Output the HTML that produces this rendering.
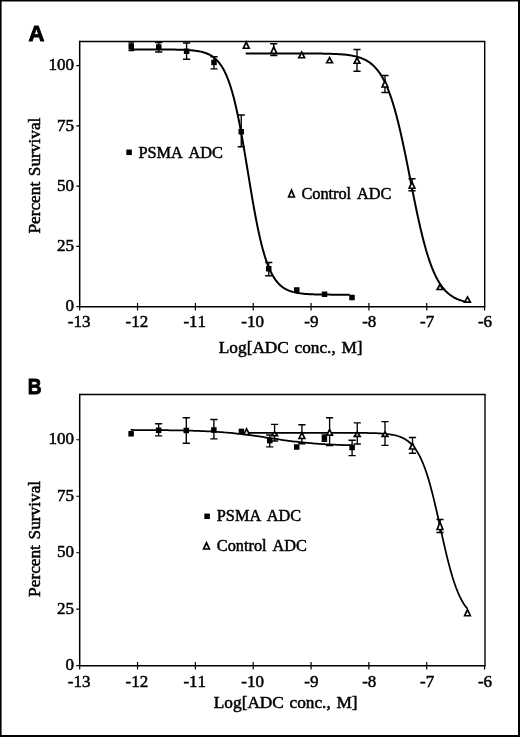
<!DOCTYPE html>
<html><head><meta charset="utf-8"><title>Figure</title>
<style>
html,body{margin:0;padding:0;background:#fff;}
body{width:520px;height:737px;overflow:hidden;}
svg{display:block;}
text{font-family:"Liberation Serif","Times New Roman",serif;font-size:17px;fill:#000;stroke:#000;stroke-width:0.5px;font-kerning:none;}
.ax{font-size:17.3px;word-spacing:1.3px;}
.l1{font-size:16.3px;word-spacing:1.5px;}
.l2{font-size:16.3px;word-spacing:1.8px;}
.lab{font-family:"Liberation Sans",Arial,sans-serif;font-weight:bold;font-size:22px;stroke:#000;stroke-width:0.9px;}
</style></head><body>
<svg width="520" height="737" viewBox="0 0 520 737">
<rect x="0" y="0" width="520" height="737" fill="#fff"/>
<path d="M0 0H520V737H0Z M1.6 1.4V735H518V1.4Z" fill="#000" fill-rule="evenodd"/>

<path d="M79.7 41.4H485.34999999999997" fill="none" stroke="#000" stroke-width="1.5"/>
<path d="M484.7 41.4V306.7" fill="none" stroke="#000" stroke-width="1.4"/>
<path d="M79.7 40.75V307.45M79.0 306.7H485.34999999999997" fill="none" stroke="#000" stroke-width="1.5"/>
<path d="M76.30 306.70H79.7M76.30 246.42H79.7M76.30 186.15H79.7M76.30 125.88H79.7M76.30 65.60H79.7M79.70 306.70V310.60M137.54 303.10V310.60M195.38 303.10V310.60M253.22 303.10V310.60M311.06 303.10V310.60M368.90 303.10V310.60M426.74 303.10V310.60M484.58 306.70V310.60" fill="none" stroke="#000" stroke-width="1.2"/>
<text x="74.10" y="311.40" text-anchor="end">0</text>
<text x="74.10" y="251.12" text-anchor="end">25</text>
<text x="74.10" y="190.85" text-anchor="end">50</text>
<text x="74.10" y="130.57" text-anchor="end">75</text>
<text x="74.10" y="70.30" text-anchor="end">100</text>
<text x="79.10" y="327.3" text-anchor="middle">-13</text>
<text x="136.94" y="327.3" text-anchor="middle">-12</text>
<text x="194.78" y="327.3" text-anchor="middle">-11</text>
<text x="252.62" y="327.3" text-anchor="middle">-10</text>
<text x="311.46" y="327.3" text-anchor="middle">-9</text>
<text x="369.30" y="327.3" text-anchor="middle">-8</text>
<text x="427.14" y="327.3" text-anchor="middle">-7</text>
<text x="484.98" y="327.3" text-anchor="middle">-6</text>
<polyline points="130.60,49.45 132.44,49.45 134.28,49.45 136.13,49.45 137.97,49.45 139.81,49.45 141.65,49.45 143.49,49.45 145.34,49.46 147.18,49.46 149.02,49.46 150.86,49.46 152.70,49.47 154.55,49.47 156.39,49.47 158.23,49.48 160.07,49.49 161.92,49.49 163.76,49.50 165.60,49.51 167.44,49.53 169.28,49.54 171.13,49.56 172.97,49.59 174.81,49.62 176.65,49.65 178.49,49.69 180.34,49.74 182.18,49.80 184.02,49.87 185.86,49.96 187.71,50.06 189.55,50.18 191.39,50.33 193.23,50.51 195.07,50.72 196.92,50.97 198.76,51.28 200.60,51.64 202.44,52.08 204.28,52.60 206.13,53.23 207.97,53.97 209.81,54.86 211.65,55.92 213.50,57.18 215.34,58.68 217.18,60.46 219.02,62.56 220.86,65.03 222.71,67.93 224.55,71.31 226.39,75.25 228.23,79.80 230.07,85.02 231.92,90.97 233.76,97.68 235.60,105.18 237.44,113.46 239.28,122.51 241.13,132.25 242.97,142.58 244.81,153.38 246.65,164.48 248.50,175.71 250.34,186.88 252.18,197.80 254.02,208.32 255.86,218.28 257.71,227.58 259.55,236.13 261.39,243.91 263.23,250.90 265.07,257.11 266.92,262.58 268.76,267.36 270.60,271.51 272.44,275.08 274.29,278.14 276.13,280.76 277.97,282.98 279.81,284.87 281.65,286.46 283.50,287.80 285.34,288.93 287.18,289.87 289.02,290.67 290.86,291.33 292.71,291.89 294.55,292.35 296.39,292.74 298.23,293.07 300.08,293.34 301.92,293.56 303.76,293.75 305.60,293.91 307.44,294.04 309.29,294.15 311.13,294.24 312.97,294.32 314.81,294.38 316.65,294.43 318.50,294.48 320.34,294.51 322.18,294.54 324.02,294.57 325.87,294.59 327.71,294.61 329.55,294.62 331.39,294.63 333.23,294.64 335.08,294.65 336.92,294.66 338.76,294.66 340.60,294.67 342.44,294.67 344.29,294.68 346.13,294.68 347.97,294.68 349.81,294.68" fill="none" stroke="#000" stroke-width="2.0" stroke-linejoin="round" stroke-linecap="butt"/>
<polyline points="245.70,53.40 247.56,53.40 249.42,53.40 251.29,53.40 253.15,53.40 255.01,53.40 256.87,53.40 258.73,53.40 260.59,53.40 262.45,53.40 264.32,53.40 266.18,53.40 268.04,53.40 269.90,53.40 271.76,53.40 273.62,53.40 275.49,53.41 277.35,53.41 279.21,53.41 281.07,53.41 282.93,53.41 284.79,53.41 286.66,53.41 288.52,53.41 290.38,53.42 292.24,53.42 294.10,53.42 295.96,53.42 297.82,53.43 299.69,53.43 301.55,53.44 303.41,53.45 305.27,53.45 307.13,53.46 308.99,53.47 310.86,53.48 312.72,53.50 314.58,53.51 316.44,53.53 318.30,53.55 320.16,53.57 322.03,53.60 323.89,53.63 325.75,53.67 327.61,53.72 329.47,53.77 331.33,53.83 333.19,53.90 335.06,53.98 336.92,54.07 338.78,54.18 340.64,54.31 342.50,54.45 344.36,54.62 346.23,54.82 348.09,55.05 349.95,55.31 351.81,55.62 353.67,55.98 355.53,56.39 357.40,56.87 359.26,57.43 361.12,58.07 362.98,58.81 364.84,59.67 366.70,60.66 368.56,61.79 370.43,63.10 372.29,64.61 374.15,66.33 376.01,68.31 377.87,70.57 379.73,73.13 381.60,76.05 383.46,79.34 385.32,83.06 387.18,87.22 389.04,91.87 390.90,97.04 392.77,102.73 394.63,108.96 396.49,115.75 398.35,123.06 400.21,130.88 402.07,139.16 403.93,147.85 405.80,156.87 407.66,166.12 409.52,175.52 411.38,184.96 413.24,194.34 415.10,203.54 416.97,212.47 418.83,221.06 420.69,229.22 422.55,236.90 424.41,244.08 426.27,250.71 428.13,256.80 430.00,262.35 431.86,267.37 433.72,271.88 435.58,275.92 437.44,279.52 439.30,282.71 441.17,285.53 443.03,288.01 444.89,290.18 446.75,292.09 448.61,293.75 450.47,295.20 452.34,296.46 454.20,297.56 456.06,298.51 457.92,299.33 459.78,300.04 461.64,300.66 463.50,301.19 465.37,301.66 467.23,302.05" fill="none" stroke="#000" stroke-width="2.0" stroke-linejoin="round" stroke-linecap="butt"/>
<path d="M131.25 43.00V50.50M128.45 43.00h5.6M128.45 50.50h5.6" stroke="#000" stroke-width="1.35" fill="none"/>
<path d="M158.75 42.50V52.00M155.15 42.50h7.2M155.15 52.00h7.2" stroke="#000" stroke-width="1.35" fill="none"/>
<path d="M186.60 43.00V59.25M183.00 43.00h7.2M183.00 59.25h7.2" stroke="#000" stroke-width="1.35" fill="none"/>
<path d="M214.00 56.70V68.90M210.40 56.70h7.2M210.40 68.90h7.2" stroke="#000" stroke-width="1.35" fill="none"/>
<path d="M241.25 115.00V146.75M237.65 115.00h7.2M237.65 146.75h7.2" stroke="#000" stroke-width="1.35" fill="none"/>
<path d="M268.75 262.50V275.75M265.15 262.50h7.2M265.15 275.75h7.2" stroke="#000" stroke-width="1.35" fill="none"/>
<path d="M273.75 43.75V55.50M270.15 43.75h7.2M270.15 55.50h7.2" stroke="#000" stroke-width="1.35" fill="none"/>
<path d="M357.00 49.50V71.25M353.40 49.50h7.2M353.40 71.25h7.2" stroke="#000" stroke-width="1.35" fill="none"/>
<path d="M385.00 75.50V92.50M381.40 75.50h7.2M381.40 92.50h7.2" stroke="#000" stroke-width="1.35" fill="none"/>
<path d="M412.00 178.75V190.75M408.40 178.75h7.2M408.40 190.75h7.2" stroke="#000" stroke-width="1.35" fill="none"/>
<rect x="128.50" y="44.00" width="5.5" height="5.5" fill="#000"/>
<rect x="156.00" y="44.25" width="5.5" height="5.5" fill="#000"/>
<rect x="183.85" y="48.50" width="5.5" height="5.5" fill="#000"/>
<rect x="211.25" y="59.65" width="5.5" height="5.5" fill="#000"/>
<rect x="238.50" y="129.00" width="5.5" height="5.5" fill="#000"/>
<rect x="266.00" y="266.00" width="5.5" height="5.5" fill="#000"/>
<rect x="294.00" y="287.25" width="5.5" height="5.5" fill="#000"/>
<rect x="321.75" y="291.50" width="5.5" height="5.5" fill="#000"/>
<rect x="349.25" y="294.75" width="5.5" height="5.5" fill="#000"/>
<path d="M246.25 42.05L249.10 48.25H243.40Z" fill="#fff" stroke="#000" stroke-width="1.7" stroke-linejoin="miter"/>
<path d="M273.75 46.80L276.60 53.25H270.90Z" fill="#fff" stroke="#000" stroke-width="1.7" stroke-linejoin="miter"/>
<path d="M301.70 52.05L304.55 57.75H298.85Z" fill="#fff" stroke="#000" stroke-width="1.7" stroke-linejoin="miter"/>
<path d="M329.60 57.55L332.45 62.75H326.75Z" fill="#fff" stroke="#000" stroke-width="1.7" stroke-linejoin="miter"/>
<path d="M357.00 57.80L359.85 63.25H354.15Z" fill="#fff" stroke="#000" stroke-width="1.7" stroke-linejoin="miter"/>
<path d="M385.00 80.80L387.85 87.00H382.15Z" fill="#fff" stroke="#000" stroke-width="1.7" stroke-linejoin="miter"/>
<path d="M412.00 182.05L414.85 188.25H409.15Z" fill="#fff" stroke="#000" stroke-width="1.7" stroke-linejoin="miter"/>
<path d="M440.00 284.55L442.85 289.50H437.15Z" fill="#fff" stroke="#000" stroke-width="1.7" stroke-linejoin="miter"/>
<path d="M467.50 297.00L470.35 302.10H464.65Z" fill="#fff" stroke="#000" stroke-width="1.7" stroke-linejoin="miter"/>
<rect x="126.35" y="149.55" width="5.5" height="5.5" fill="#000"/>
<text class="l1" x="138.5" y="157.6">PSMA ADC</text>
<path d="M291.50 190.20L294.35 197.00H288.65Z" fill="#fff" stroke="#000" stroke-width="1.7" stroke-linejoin="miter"/>
<text class="l2" x="301.4" y="199.3">Control ADC</text>
<text class="ax" x="218.8" y="352.9">Log[ADC conc., M]</text>
<text transform="translate(39.6 175.6) rotate(-90)" text-anchor="middle" class="ax">Percent Survival</text>
<text class="lab" transform="translate(28.5 41) scale(1 1)">A</text>
<path d="M79.7 394.5H485.65" fill="none" stroke="#000" stroke-width="1.5"/>
<path d="M485.0 394.5V665.7" fill="none" stroke="#000" stroke-width="1.4"/>
<path d="M79.7 393.85V666.45M79.0 665.7H485.65" fill="none" stroke="#000" stroke-width="1.5"/>
<path d="M76.30 665.70H79.7M76.30 609.21H79.7M76.30 552.73H79.7M76.30 496.24H79.7M76.30 439.75H79.7M79.70 665.70V669.60M137.54 662.10V669.60M195.38 662.10V669.60M253.22 662.10V669.60M311.06 662.10V669.60M368.90 662.10V669.60M426.74 662.10V669.60M484.58 665.70V669.60" fill="none" stroke="#000" stroke-width="1.2"/>
<text x="74.10" y="670.40" text-anchor="end">0</text>
<text x="74.10" y="613.91" text-anchor="end">25</text>
<text x="74.10" y="557.43" text-anchor="end">50</text>
<text x="74.10" y="500.94" text-anchor="end">75</text>
<text x="74.10" y="444.45" text-anchor="end">100</text>
<text x="79.10" y="686.9" text-anchor="middle">-13</text>
<text x="136.94" y="686.9" text-anchor="middle">-12</text>
<text x="194.78" y="686.9" text-anchor="middle">-11</text>
<text x="252.62" y="686.9" text-anchor="middle">-10</text>
<text x="311.46" y="686.9" text-anchor="middle">-9</text>
<text x="369.30" y="686.9" text-anchor="middle">-8</text>
<text x="427.14" y="686.9" text-anchor="middle">-7</text>
<text x="484.98" y="686.9" text-anchor="middle">-6</text>
<polyline points="130.60,429.98 132.46,429.99 134.32,430.00 136.18,430.00 138.05,430.01 139.91,430.02 141.77,430.03 143.63,430.04 145.49,430.05 147.35,430.06 149.21,430.07 151.08,430.08 152.94,430.10 154.80,430.11 156.66,430.12 158.52,430.14 160.38,430.16 162.25,430.18 164.11,430.20 165.97,430.22 167.83,430.24 169.69,430.27 171.55,430.29 173.42,430.32 175.28,430.35 177.14,430.38 179.00,430.42 180.86,430.45 182.72,430.49 184.58,430.53 186.45,430.58 188.31,430.62 190.17,430.67 192.03,430.73 193.89,430.79 195.75,430.85 197.62,430.91 199.48,430.98 201.34,431.05 203.20,431.13 205.06,431.21 206.92,431.30 208.79,431.39 210.65,431.49 212.51,431.60 214.37,431.71 216.23,431.82 218.09,431.94 219.95,432.07 221.82,432.21 223.68,432.35 225.54,432.50 227.40,432.66 229.26,432.82 231.12,432.99 232.99,433.17 234.85,433.36 236.71,433.56 238.57,433.76 240.43,433.97 242.29,434.19 244.16,434.41 246.02,434.64 247.88,434.88 249.74,435.13 251.60,435.38 253.46,435.64 255.32,435.90 257.19,436.16 259.05,436.43 260.91,436.71 262.77,436.99 264.63,437.27 266.49,437.55 268.36,437.83 270.22,438.11 272.08,438.39 273.94,438.67 275.80,438.95 277.66,439.23 279.53,439.50 281.39,439.77 283.25,440.04 285.11,440.30 286.97,440.55 288.83,440.80 290.69,441.04 292.56,441.28 294.42,441.51 296.28,441.73 298.14,441.95 300.00,442.15 301.86,442.35 303.73,442.55 305.59,442.73 307.45,442.91 309.31,443.08 311.17,443.24 313.03,443.39 314.89,443.54 316.76,443.68 318.62,443.81 320.48,443.94 322.34,444.06 324.20,444.17 326.06,444.28 327.93,444.38 329.79,444.48 331.65,444.57 333.51,444.66 335.37,444.74 337.23,444.81 339.10,444.89 340.96,444.95 342.82,445.02 344.68,445.08 346.54,445.13 348.40,445.18 350.26,445.23 352.13,445.28" fill="none" stroke="#000" stroke-width="1.75" stroke-linejoin="round" stroke-linecap="butt"/>
<polyline points="246.28,432.81 248.14,432.81 249.99,432.81 251.85,432.81 253.71,432.81 255.56,432.81 257.42,432.81 259.28,432.81 261.13,432.81 262.99,432.81 264.85,432.81 266.70,432.81 268.56,432.81 270.42,432.81 272.27,432.81 274.13,432.81 275.99,432.81 277.84,432.81 279.70,432.81 281.56,432.81 283.41,432.81 285.27,432.81 287.13,432.81 288.98,432.81 290.84,432.81 292.70,432.81 294.55,432.81 296.41,432.81 298.27,432.81 300.12,432.81 301.98,432.81 303.84,432.81 305.69,432.81 307.55,432.81 309.41,432.81 311.26,432.81 313.12,432.81 314.98,432.81 316.83,432.81 318.69,432.82 320.55,432.82 322.40,432.82 324.26,432.82 326.12,432.82 327.97,432.82 329.83,432.82 331.69,432.82 333.54,432.82 335.40,432.82 337.26,432.82 339.11,432.83 340.97,432.83 342.83,432.83 344.68,432.83 346.54,432.84 348.40,432.84 350.26,432.85 352.11,432.86 353.97,432.86 355.83,432.87 357.68,432.88 359.54,432.90 361.40,432.92 363.25,432.93 365.11,432.96 366.97,432.99 368.82,433.02 370.68,433.06 372.54,433.11 374.39,433.16 376.25,433.23 378.11,433.31 379.96,433.41 381.82,433.53 383.68,433.66 385.53,433.83 387.39,434.02 389.25,434.25 391.10,434.53 392.96,434.86 394.82,435.25 396.67,435.72 398.53,436.27 400.39,436.93 402.24,437.70 404.10,438.62 405.96,439.71 407.81,440.99 409.67,442.49 411.53,444.25 413.38,446.31 415.24,448.71 417.10,451.49 418.95,454.69 420.81,458.36 422.67,462.53 424.52,467.24 426.38,472.51 428.24,478.36 430.09,484.76 431.95,491.70 433.81,499.11 435.66,506.93 437.52,515.05 439.38,523.36 441.23,531.73 443.09,540.04 444.95,548.15 446.80,555.96 448.66,563.36 450.52,570.28 452.37,576.66 454.23,582.49 456.09,587.74 457.94,592.43 459.80,596.59 461.66,600.24 463.51,603.43 465.37,606.19 467.23,608.58" fill="none" stroke="#000" stroke-width="1.75" stroke-linejoin="round" stroke-linecap="butt"/>
<path d="M158.60 423.75V435.80M155.00 423.75h7.2M155.00 435.80h7.2" stroke="#000" stroke-width="1.35" fill="none"/>
<path d="M186.30 417.70V443.20M182.70 417.70h7.2M182.70 443.20h7.2" stroke="#000" stroke-width="1.35" fill="none"/>
<path d="M213.90 419.50V438.90M210.30 419.50h7.2M210.30 438.90h7.2" stroke="#000" stroke-width="1.35" fill="none"/>
<path d="M269.75 435.00V446.90M266.15 435.00h7.2M266.15 446.90h7.2" stroke="#000" stroke-width="1.35" fill="none"/>
<path d="M324.40 434.90V441.40M321.60 434.90h5.6M321.60 441.40h5.6" stroke="#000" stroke-width="1.35" fill="none"/>
<path d="M352.10 440.25V455.60M348.50 440.25h7.2M348.50 455.60h7.2" stroke="#000" stroke-width="1.35" fill="none"/>
<path d="M274.60 424.40V441.00M271.00 424.40h7.2M271.00 441.00h7.2" stroke="#000" stroke-width="1.35" fill="none"/>
<path d="M301.90 424.75V443.75M298.30 424.75h7.2M298.30 443.75h7.2" stroke="#000" stroke-width="1.35" fill="none"/>
<path d="M329.60 417.75V445.60M326.00 417.75h7.2M326.00 445.60h7.2" stroke="#000" stroke-width="1.35" fill="none"/>
<path d="M357.25 422.90V444.00M353.65 422.90h7.2M353.65 444.00h7.2" stroke="#000" stroke-width="1.35" fill="none"/>
<path d="M385.00 421.60V445.40M381.40 421.60h7.2M381.40 445.40h7.2" stroke="#000" stroke-width="1.35" fill="none"/>
<path d="M412.50 437.50V453.25M408.90 437.50h7.2M408.90 453.25h7.2" stroke="#000" stroke-width="1.35" fill="none"/>
<path d="M440.00 519.50V532.50M436.40 519.50h7.2M436.40 532.50h7.2" stroke="#000" stroke-width="1.35" fill="none"/>
<rect x="128.35" y="431.05" width="5.5" height="5.5" fill="#000"/>
<rect x="155.85" y="427.55" width="5.5" height="5.5" fill="#000"/>
<rect x="183.55" y="427.75" width="5.5" height="5.5" fill="#000"/>
<rect x="211.15" y="427.25" width="5.5" height="5.5" fill="#000"/>
<rect x="238.65" y="428.65" width="5.5" height="5.5" fill="#000"/>
<rect x="267.00" y="437.85" width="5.5" height="5.5" fill="#000"/>
<rect x="293.95" y="444.25" width="5.5" height="5.5" fill="#000"/>
<rect x="321.65" y="435.35" width="5.5" height="5.5" fill="#000"/>
<rect x="349.35" y="444.75" width="5.5" height="5.5" fill="#000"/>
<path d="M246.60 428.90L249.45 434.50H243.75Z" fill="#fff" stroke="#000" stroke-width="1.7" stroke-linejoin="miter"/>
<path d="M274.60 432.05L277.45 435.75H271.75Z" fill="#fff" stroke="#000" stroke-width="1.7" stroke-linejoin="miter"/>
<path d="M301.90 432.70L304.75 438.50H299.05Z" fill="#fff" stroke="#000" stroke-width="1.7" stroke-linejoin="miter"/>
<path d="M329.60 429.55L332.45 435.10H326.75Z" fill="#fff" stroke="#000" stroke-width="1.7" stroke-linejoin="miter"/>
<path d="M357.25 432.05L360.10 436.40H354.40Z" fill="#fff" stroke="#000" stroke-width="1.7" stroke-linejoin="miter"/>
<path d="M385.00 432.05L387.85 436.40H382.15Z" fill="#fff" stroke="#000" stroke-width="1.7" stroke-linejoin="miter"/>
<path d="M412.50 443.30L415.35 449.00H409.65Z" fill="#fff" stroke="#000" stroke-width="1.7" stroke-linejoin="miter"/>
<path d="M440.00 522.05L442.85 529.50H437.15Z" fill="#fff" stroke="#000" stroke-width="1.7" stroke-linejoin="miter"/>
<path d="M467.50 609.55L470.35 615.75H464.65Z" fill="#fff" stroke="#000" stroke-width="1.7" stroke-linejoin="miter"/>
<rect x="204.35" y="513.55" width="5.5" height="5.5" fill="#000"/>
<text class="l1" x="216.8" y="521.3">PSMA ADC</text>
<path d="M206.50 542.80L209.35 549.00H203.65Z" fill="#fff" stroke="#000" stroke-width="1.7" stroke-linejoin="miter"/>
<text class="l2" x="216.8" y="551.2">Control ADC</text>
<text class="ax" x="213.8" y="707.6">Log[ADC conc., M]</text>
<text transform="translate(39.6 538.9) rotate(-90)" text-anchor="middle" class="ax">Percent Survival</text>
<text class="lab" transform="translate(27.8 394.2) scale(0.87 1)">B</text>
</svg></body></html>
